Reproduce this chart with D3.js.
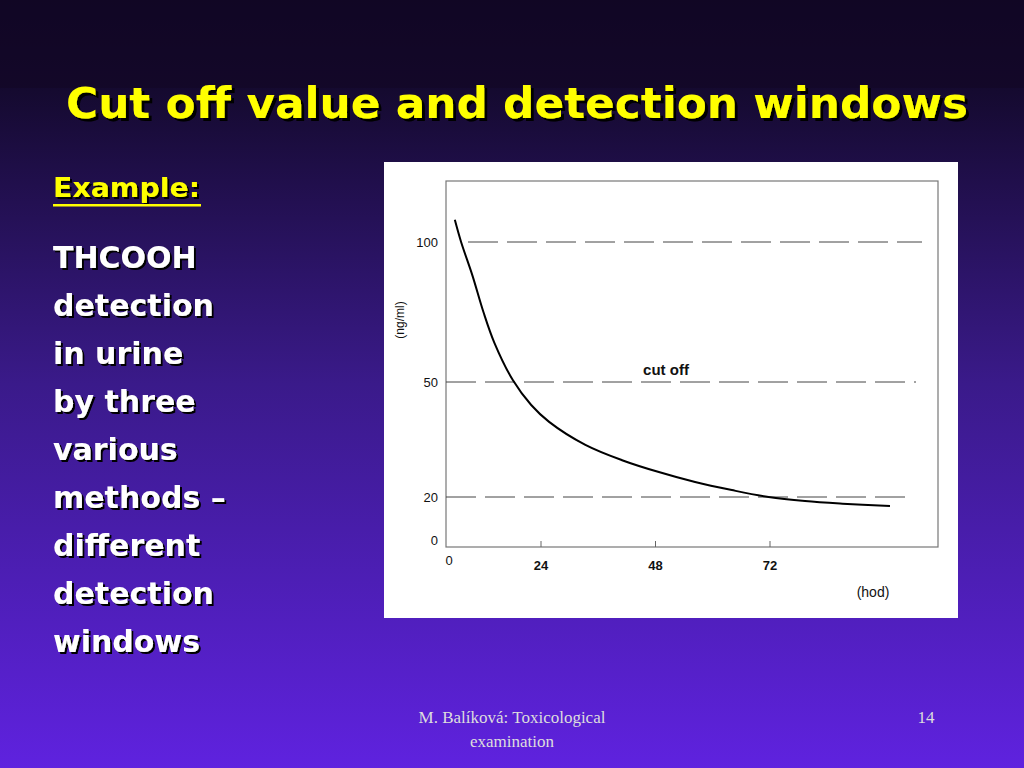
<!DOCTYPE html>
<html><head><meta charset="utf-8">
<script src="https://cdn.jsdelivr.net/npm/d3@7/dist/d3.min.js"></script>
<style>body{margin:0;background:#000}</style>
</head><body>
<svg id="slide" width="1024" height="768"></svg>
<script>
// Curve: hours vs THCOOH (ng/ml)
const hours = [2, 3.6, 6.5, 9.3, 12.1, 16.8, 21.5, 25.7, 33.3, 41, 48.7, 56.3, 64, 71.7, 79.3, 87.1, 97];
const conc  = [108, 100, 88, 75, 64, 50.7, 44, 39.6, 33.6, 29.6, 26.5, 23.9, 21.8, 20, 18.1, 16.9, 15.8];
const levels = [100, 50, 20];
const yTicks = [100, 50, 20, 0];
const xTicks = [24, 48, 72];
const bodyLines = ["THCOOH", "detection", "in urine", "by three", "various", "methods \u2013", "different", "detection", "windows"];

const svg = d3.select("#slide");
const defs = svg.append("defs");
const grad = defs.append("linearGradient").attr("id", "bg").attr("x1", 0).attr("y1", 0).attr("x2", 0).attr("y2", 1);
grad.append("stop").attr("offset", "0").attr("stop-color", "#100625");
grad.append("stop").attr("offset", "0.12").attr("stop-color", "#150a30");
grad.append("stop").attr("offset", "0.5").attr("stop-color", "#3a1a8a");
grad.append("stop").attr("offset", "1").attr("stop-color", "#5f22df");
svg.append("rect").attr("width", 1024).attr("height", 768).attr("fill", "url(#bg)");
svg.append("rect").attr("width", 1024).attr("height", 88).attr("fill", "#120725").attr("opacity", 0.6);

const font = "'Comic Sans MS', 'DejaVu Sans', sans-serif";
// title (shadow drawn as a filter so texts don't stack)
const sh = defs.append("filter").attr("id", "shadow");
sh.append("feDropShadow").attr("dx", 3).attr("dy", 3).attr("stdDeviation", 0.5).attr("flood-color", "#000");
const sh2 = defs.append("filter").attr("id", "shadow2");
sh2.append("feDropShadow").attr("dx", 2).attr("dy", 2).attr("stdDeviation", 0.4).attr("flood-color", "#000");

svg.append("text").attr("x", 66).attr("y", 118)
  .attr("textLength", 902).attr("lengthAdjust", "spacingAndGlyphs").attr("filter", "url(#shadow)")
  .style("font-family", font).style("font-weight", "bold").style("font-size", "42px")
  .attr("fill", "#ffff00").text("Cut off value and detection windows");
// left text
svg.append("text").attr("x", 53).attr("y", 197).attr("textLength", 147).attr("lengthAdjust", "spacingAndGlyphs")
  .attr("filter", "url(#shadow2)")
  .style("font-family", font).style("font-weight", "bold").style("font-size", "26px")
  .attr("fill", "#ffff00").text("Example:");
svg.append("rect").attr("x", 53).attr("y", 204).attr("width", 148).attr("height", 2.5).attr("fill", "#ffff00");
svg.selectAll(".body").data(bodyLines).join("text").attr("class", "body")
  .attr("x", 53).attr("y", (d, i) => 268 + i * 48).attr("filter", "url(#shadow2)")
  .style("font-family", font).style("font-weight", "bold").style("font-size", "30px")
  .attr("fill", "#fff").text(d => d);
// footer
const foot = svg.append("g").style("font-family", "'Liberation Serif', serif").style("font-size", "17px").attr("fill", "#ddd");
foot.append("text").attr("x", 512).attr("y", 723).attr("text-anchor", "middle").text("M. Balíková: Toxicological");
foot.append("text").attr("x", 512).attr("y", 747).attr("text-anchor", "middle").text("examination");
foot.append("text").attr("x", 926).attr("y", 723).attr("text-anchor", "middle").text("14");

// chart panel
svg.append("rect").attr("x", 384).attr("y", 162).attr("width", 574).attr("height", 456).attr("fill", "#fff");
const x = d3.scaleLinear().domain([0, 24, 72, 107]).range([447, 541, 770, 938]);
const y = d3.scaleLinear().domain([0, 20, 50, 100, 122]).range([540, 497, 382, 242, 181]);
const cf = "'Liberation Sans', Arial, sans-serif";

svg.append("rect").attr("x", 446).attr("y", 181).attr("width", 492).attr("height", 366)
  .attr("fill", "none").attr("stroke", "#777").attr("stroke-width", 1.2);

const lineStart = {100: 468, 50: 446, 20: 446};
const lineEnd = {100: 922, 50: 916, 20: 914};
svg.selectAll(".lvl").data(levels).join("line").attr("class", "lvl")
  .attr("x1", d => lineStart[d]).attr("x2", d => lineEnd[d])
  .attr("y1", d => y(d)).attr("y2", d => y(d))
  .attr("stroke", "#444").attr("stroke-width", 1).attr("stroke-dasharray", "30,9");

svg.selectAll(".yt").data(yTicks).join("text").attr("class", "yt")
  .attr("x", 438).attr("y", d => y(d) + 5).attr("text-anchor", "end")
  .style("font-family", cf).style("font-size", "13px").attr("fill", "#111").text(d => d);

svg.selectAll(".xtick").data(xTicks).join("line").attr("class", "xtick")
  .attr("x1", d => x(d)).attr("x2", d => x(d)).attr("y1", 547).attr("y2", 541).attr("stroke", "#666");
svg.selectAll(".xt").data([0].concat(xTicks)).join("text").attr("class", "xt")
  .attr("x", d => d === 0 ? 449 : x(d)).attr("y", d => d === 0 ? 565 : 570).attr("text-anchor", "middle")
  .style("font-family", cf).style("font-size", "13px").style("font-weight", d => d === 0 ? "normal" : "bold")
  .attr("fill", "#111").text(d => d);

svg.append("text").attr("transform", "translate(404,320) rotate(-90)").attr("text-anchor", "middle")
  .style("font-family", cf).style("font-size", "12px").attr("fill", "#111").text("(ng/ml)");
svg.append("text").attr("x", 873).attr("y", 597).attr("text-anchor", "middle")
  .style("font-family", cf).style("font-size", "14px").attr("fill", "#111").text("(hod)");
svg.append("text").attr("x", 666).attr("y", 375).attr("text-anchor", "middle")
  .style("font-family", cf).style("font-size", "15px").style("font-weight", "bold").attr("fill", "#111").text("cut off");

const pts = hours.map((h, i) => [h, conc[i]]);
svg.append("path").datum(pts)
  .attr("d", d3.line().x(d => x(d[0])).y(d => y(d[1])).curve(d3.curveCatmullRom))
  .attr("fill", "none").attr("stroke", "#000").attr("stroke-width", 2);
</script>
</body></html>
